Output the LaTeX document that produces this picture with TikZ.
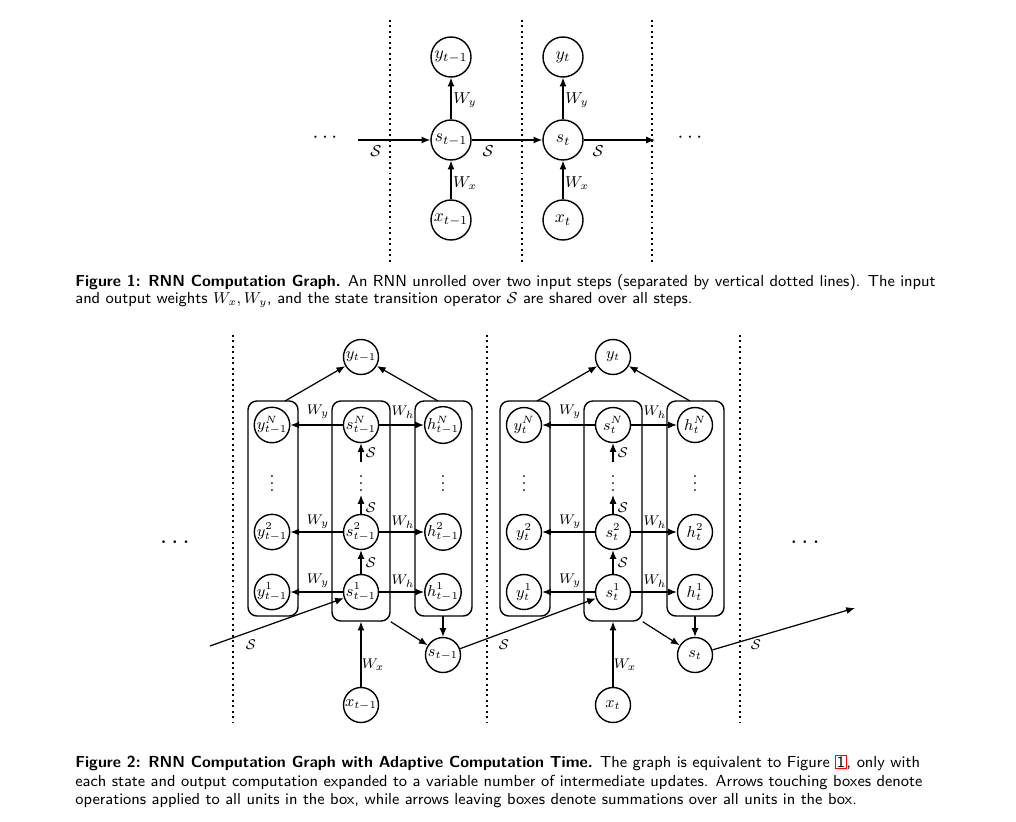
\documentclass[tikz,border=0pt]{standalone}
\usetikzlibrary{arrows.meta}
\begin{document}
\begin{tikzpicture}[x=0.02cm,y=-0.02cm,
  nd/.style={circle,draw,line width=0.8pt,minimum size=40*0.02cm,inner sep=0pt,font=\normalsize},
  sn/.style={circle,draw,line width=0.8pt,minimum size=35*0.02cm,inner sep=0pt,font=\small},
  bx/.style={draw,rounded corners=5pt,line width=0.8pt},
  ar/.style={-{Latex[length=5pt,width=4pt]},line width=0.7pt},
  dl/.style={dotted,line width=1.1pt},
  lb/.style={font=\footnotesize,inner sep=1pt},
  captxt/.style={anchor=west,inner sep=0pt,font=\sffamily\fontsize{9.1}{10}\selectfont}]
\useasboundingbox (0,0) rectangle (1016,821);
% ---------- figure 1
\foreach \x in {390,522,652} \draw[dl] (\x,20) -- (\x,262);
\node[nd] (y1) at (451,57) {$y_{t-1}$};
\node[nd] (s1) at (451,140) {$s_{t-1}$};
\node[nd] (x1) at (451,220) {$x_{t-1}$};
\node[nd] (y2) at (563,57) {$y_{t}$};
\node[nd] (s2) at (563,140) {$s_{t}$};
\node[nd] (x2) at (563,220) {$x_{t}$};
\node (d1) at (325,138) {\large$\cdots$};
\node (d2) at (690,138) {\large$\cdots$};
\coordinate (in1) at (358,140); \coordinate (out1) at (655,140);
\draw[ar] (in1) -- (s1); \draw[ar] (s1) -- (s2); \draw[ar] (s2) -- (out1);
\draw[ar] (s1) -- (y1); \draw[ar] (x1) -- (s1);
\draw[ar] (s2) -- (y2); \draw[ar] (x2) -- (s2);
\node[lb,font=\small] at (376,151) {$\mathcal{S}$};
\node[lb,font=\small] at (488,151) {$\mathcal{S}$};
\node[lb,font=\small] at (598,151) {$\mathcal{S}$};
\node[lb,font=\small] at (465,100) {$W_y$}; \node[lb,font=\small] at (465,183) {$W_x$};
\node[lb,font=\small] at (577,100) {$W_y$}; \node[lb,font=\small] at (577,183) {$W_x$};
\node[captxt] at (75,282) {\textbf{Figure 1: RNN Computation Graph.} An RNN unrolled over two input steps (separated by vertical dotted lines). The input};
\node[captxt] at (75,300) {and output weights $W_x,W_y$, and the state transition operator $\mathcal{S}$ are shared over all steps.};
% ---------- figure 2
\foreach \x in {233,487,740} \draw[dl] (\x,335) -- (\x,722);
\node at (175,543) {\Large$\cdots$};
\node at (805,543) {\Large$\cdots$};
\foreach \o/\t/\n in {0/{t-1}/a,252/{t}/b}{
  \begin{scope}[xshift=\o*0.02cm]
  \node[sn] (Y\n) at (361,357) {$y_{\t}$};
  \node[sn] (yN\n) at (272,425) {$y^N_{\t}$};
  \node[sn] (y2\n) at (272,532) {$y^2_{\t}$};
  \node[sn] (y1\n) at (272,592) {$y^1_{\t}$};
  \node[sn] (sN\n) at (361,425) {$s^N_{\t}$};
  \node[sn] (s2\n) at (361,532) {$s^2_{\t}$};
  \node[sn] (s1\n) at (361,592) {$s^1_{\t}$};
  \node[sn] (hN\n) at (443,425) {$h^N_{\t}$};
  \node[sn] (h2\n) at (443,532) {$h^2_{\t}$};
  \node[sn] (h1\n) at (443,592) {$h^1_{\t}$};
  \node[sn] (S\n) at (443,655) {$s_{\t}$};
  \node[sn] (X\n) at (361,705) {$x_{\t}$};
  \draw[bx] (248,401) rectangle (298,616);
  \node[bx,minimum width=58*0.02cm,minimum height=220*0.02cm,inner sep=0pt] (SB\n) at (361,511) {};
  \draw[bx] (415,401) rectangle (472,616);
  \node at (272,478) {$\vdots$};
  \node at (443,478) {$\vdots$};
  \node (vd\n) at (361,478) {$\vdots$};
  \coordinate (yt\n) at (285,401); \coordinate (ht\n) at (438,401);
  \coordinate (hb\n) at (443,616);
  \draw[ar] (yt\n) -- (Y\n); \draw[ar] (ht\n) -- (Y\n);
  \foreach \k in {N,2,1}{
    \draw[ar] (s\k\n) -- (y\k\n); \draw[ar] (s\k\n) -- (h\k\n);}
  \node[lb] at (318,412) {$W_y$}; \node[lb] at (318,522) {$W_y$}; \node[lb] at (318,581) {$W_y$};
  \node[lb] at (403,412) {$W_h$}; \node[lb] at (403,522) {$W_h$}; \node[lb] at (403,581) {$W_h$};
  \draw[ar] (s1\n) -- (s2\n);
  \coordinate (vb\n) at (361,495);
  \coordinate (vc\n) at (361,462);
  \draw[ar] (s2\n.north) -- (vb\n);
  \draw[ar] (vc\n) -- (sN\n);
  \node[lb] at (371,563) {$\mathcal{S}$};
  \node[lb] at (371,508) {$\mathcal{S}$};
  \node[lb] at (371,453) {$\mathcal{S}$};
  \draw[ar] (SB\n.south east) -- (S\n);
  \draw[ar] (hb\n) -- (S\n);
  \draw[ar] (X\n) -- (SB\n.south);
  \node[lb] at (373,665) {$W_x$};
  \end{scope}}
\coordinate (sin) at (210,646); \coordinate (sout) at (855,608);
\draw[ar] (sin) -- (s1a);
\draw[ar] (Sa) -- (s1b);
\draw[ar] (Sb) -- (sout);
\node[lb] at (251,645) {$\mathcal{S}$};
\node[lb] at (504,645) {$\mathcal{S}$};
\node[lb] at (756,645) {$\mathcal{S}$};
\node[captxt] at (75,763) {\textbf{Figure 2: RNN Computation Graph with Adaptive Computation Time.} The graph is equivalent to Figure {\fboxsep=0.3pt\fboxrule=0.6pt\textcolor{red}{\fbox{\textcolor{black}{1}}}}, only with};
\node[captxt] at (75,782) {each state and output computation expanded to a variable number of intermediate updates. Arrows touching boxes denote};
\node[captxt] at (75,801) {operations applied to all units in the box, while arrows leaving boxes denote summations over all units in the box.};
\end{tikzpicture}
\end{document}
